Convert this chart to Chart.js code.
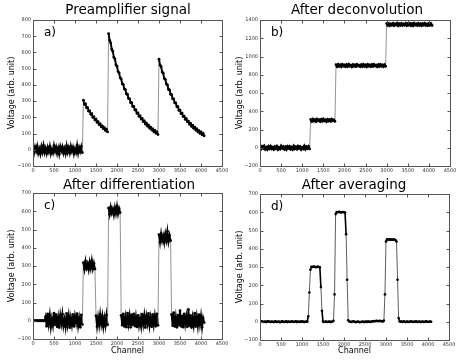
<!DOCTYPE html>
<html>
<head>
<meta charset="utf-8">
<script src="https://cdn.jsdelivr.net/npm/chart.js@4.4.1/dist/chart.umd.min.js"></script>
<style>
  html, body { margin: 0; padding: 0; background: #fff; }
  #wrap { position: relative; width: 474px; height: 362px; overflow: hidden; background: #fff; }
  canvas { position: absolute; }
</style>
</head>
<body>
<div id="wrap">
  <canvas id="chartC" width="237" height="192" style="left:0;top:170px"></canvas>
  <canvas id="chartD" width="242" height="192" style="left:232px;top:170px"></canvas>
  <canvas id="chartA" width="237" height="181" style="left:0;top:0"></canvas>
  <canvas id="chartB" width="242" height="181" style="left:232px;top:0"></canvas>
</div>
<script>
// channel grid, one sample every 25 channels
const channels = [
  0, 25, 50, 75, 100, 125, 150, 175, 200, 225, 250, 275, 300, 325, 350, 375,
  400, 425, 450, 475, 500, 525, 550, 575, 600, 625, 650, 675, 700, 725, 750, 775,
  800, 825, 850, 875, 900, 925, 950, 975, 1000, 1025, 1050, 1075, 1100, 1125, 1150, 1175,
  1200, 1225, 1250, 1275, 1300, 1325, 1350, 1375, 1400, 1425, 1450, 1475,
  1500, 1525, 1550, 1575, 1600, 1625, 1650, 1675, 1700, 1725, 1750, 1775,
  1800, 1825, 1850, 1875, 1900, 1925, 1950, 1975, 2000, 2025, 2050, 2075,
  2100, 2125, 2150, 2175, 2200, 2225, 2250, 2275, 2300, 2325, 2350, 2375,
  2400, 2425, 2450, 2475, 2500, 2525, 2550, 2575, 2600, 2625, 2650, 2675,
  2700, 2725, 2750, 2775, 2800, 2825, 2850, 2875, 2900, 2925, 2950, 2975,
  3000, 3025, 3050, 3075, 3100, 3125, 3150, 3175, 3200, 3225, 3250, 3275,
  3300, 3325, 3350, 3375, 3400, 3425, 3450, 3475, 3500, 3525, 3550, 3575,
  3600, 3625, 3650, 3675, 3700, 3725, 3750, 3775, 3800, 3825, 3850, 3875,
  3900, 3925, 3950, 3975, 4000, 4025, 4050, 4075
];

// a) preamplifier signal
const preampSignal = [
  12, -20, 18, -8, 24, -22, 6, -26, 20, -14, 27, -18, 9, -24, 15, -12, 22, -25, 4, -19, 26, -10, 17, -23,
  11, -27, 21, -6, 19, -21, 8, -24, 25, -15, 13, -20, 23, -9, 16, -26, 7, -17, 28, -22, 14, -11, 20, -18,
  306, 280, 283, 259, 259, 238, 240, 219, 222, 200, 203, 184, 189, 169, 173, 155, 160, 142, 147, 131, 137, 119, 126, 110,
  716, 675, 659, 620, 607, 571, 559, 524, 515, 482, 474, 443, 437, 407, 402, 374, 371, 344, 341, 316, 314, 290, 290, 267,
  267, 245, 246, 225, 227, 206, 209, 189, 193, 174, 178, 159, 164, 146, 152, 134, 140, 123, 129, 112, 119, 103, 110, 94,
  558, 522, 512, 480, 472, 440, 434, 405, 400, 372, 369, 342, 340, 314, 313, 289, 289, 265, 266, 243, 245, 223,
  226, 205, 208, 188, 192, 173, 177, 158, 163, 145, 151, 133, 139, 122, 128, 111, 118, 102, 110, 93, 101, 86
];

// b) after deconvolution
const deconvolved = [
  8, -14, 16, -6, 19, -17, 4, -20, 15, -10, 18, -13, 6, -18, 12, -9, 17, -19, 3, -15, 20, -7, 13, -16,
  9, -20, 15, -5, 14, -16, 6, -18, 19, -11, 10, -15, 17, -7, 12, -19, 5, -12, 20, -16, 11, -8, 15, -13,
  310, 289, 313, 292, 308, 287, 314, 295, 307, 288, 311, 291, 315, 294, 306, 286, 312, 293, 309, 290, 313, 296, 305, 288,
  910, 889, 913, 892, 908, 887, 914, 895, 907, 888, 911, 891, 915, 894, 906, 886, 912, 893, 909, 890, 913, 896, 905, 888,
  911, 890, 914, 893, 907, 886, 913, 894, 908, 889, 912, 892, 914, 895, 906, 887, 910, 891, 913, 894, 907, 888, 911, 892,
  1363, 1341, 1361, 1338, 1358, 1343, 1364, 1339, 1357, 1345, 1365, 1337, 1359, 1342, 1362, 1340, 1356, 1344, 1364, 1338, 1360, 1343,
  1362, 1340, 1359, 1337, 1365, 1344, 1357, 1339, 1363, 1342, 1358, 1338, 1361, 1345, 1364, 1341, 1356, 1339, 1362, 1343, 1360, 1340
];

// c) after differentiation
const differentiated = [
  0, 0, 0, 0, 0, 0, 0, 0, 0, 0, 0, 0,
  22, -30, 38, -18, 31, -35, 12, -26, 41, -22, 34, -33, 18, -37, 29, -15, 36, -28,
  9, -34, 40, -20, 27, -38, 16, -24, 35, -31, 25, -12, 39, -29, 14, -36, 32, -21,
  318, 282, 327, 290, 312, 279, 322, 288, 330, 285, 315, 283,
  28, -31, 20, -25, 34, -18, 26, -33, 15, -27, 31, -22,
  618, 583, 624, 590, 612, 579, 621, 587, 628, 585, 615, 592,
  30, -24, 37, -31, 19, -35, 42, -17, 27, -36, 33, -23, 38, -29, 21, -34, 30, -26,
  13, -31, 36, -19, 29, -37, 24, -14, 40, -27, 17, -33, 35, -22, 26, -30, 38, -25,
  472, 430, 478, 438, 465, 427, 476, 441, 490, 433, 468, 439,
  35, -27, 44, -31, 20, -36, 31, -24, 55, -30, 27, -35, 38, -19, 24, -33,
  62, -28, 30, -37, 18, -25, 41, -32, 22, -29, 34, -20, 27, -36, 15, -10
];

// d) after averaging
const averaged = [
  0, 1, 2, -1, 0, 1, -2, 2, 3, 0, -1, 1, 0, -2, 1, 2, -1, 0, 1, -3, 0, 2, 1, -1,
  0, 2, -2, 1, 0, -1, 2, 1, -1, 0, 3, -2, 1, 0, -1, 2, 0, 1, -2, 0, 1, 0,
  30, 160, 285, 301, 300, 302, 301, 299, 300, 302, 300, 298, 190, 60, 2,
  -1, 0, 1, -1, 0, 1, -2, 0, 1, 5,
  150, 590, 601, 600, 602, 601, 599, 600, 601, 600, 598, 480, 230, 8,
  2, 0, -1, 1, 2, 0, -2, -1, 1, 0, -3, -1, 0, 1, -2, 0, 1, -1, 2, 0, -1, 1, 3, 2, 4, 3, 5, 4, 3, 5, 4, 3, 2, 6,
  150, 440, 452, 451, 450, 452, 450, 449, 451, 450, 448, 440, 230, 20, 2,
  0, 1, -1, 2, 0, -2, 1, 0, -1, 1, 2, 0, -1, 1, 0, 2, -1, 0, 1, -2, 0, 1, -1, 0, 2, 1, -1, 0, 1, 0
];

const channelTicks = [0, 500, 1000, 1500, 2000, 2500, 3000, 3500, 4000, 4500];
const preampTicks = [-100, 0, 100, 200, 300, 400, 500, 600, 700, 800];
const deconvTicks = [-200, 0, 200, 400, 600, 800, 1000, 1200, 1400];
const shaperTicks = [-100, 0, 100, 200, 300, 400, 500, 600, 700];

const titles = ['Preamplifier signal', 'After deconvolution', 'After differentiation', 'After averaging'];
const panelLabels = ['a)', 'b)', 'c)', 'd)'];

const FONT = '"DejaVu Sans", sans-serif';

const panelDecor = {
  id: 'panelDecor',
  afterDraw(chart, args, opts) {
    const { ctx, chartArea: a, scales } = chart;
    ctx.save();
    ctx.strokeStyle = '#555';
    ctx.lineWidth = 1;
    const l = Math.round(a.left) + 0.5, r = Math.round(a.right) + 0.5;
    const t = Math.round(a.top) + 0.5, b = Math.round(a.bottom) + 0.5;
    ctx.strokeRect(l, t, r - l, b - t);
    ctx.beginPath();
    scales.x.ticks.forEach(tk => {
      const px = Math.round(scales.x.getPixelForValue(tk.value)) + 0.5;
      ctx.moveTo(px, b); ctx.lineTo(px, b - 3);
      ctx.moveTo(px, t); ctx.lineTo(px, t + 3);
    });
    scales.y.ticks.forEach(tk => {
      const py = Math.round(scales.y.getPixelForValue(tk.value)) + 0.5;
      ctx.moveTo(l, py); ctx.lineTo(l + 3, py);
      ctx.moveTo(r, py); ctx.lineTo(r - 3, py);
    });
    ctx.stroke();
    ctx.fillStyle = '#000';
    ctx.font = '13.5px ' + FONT;
    ctx.textAlign = 'center';
    ctx.textBaseline = 'alphabetic';
    ctx.fillText(opts.title, opts.titleX, opts.titleY);
    ctx.font = '12px ' + FONT;
    ctx.textAlign = 'left';
    ctx.fillText(opts.label, a.left + 11, a.top + 16);
    ctx.restore();
  }
};

function minusFmt(v) {
  return v < 0 ? '\u2212' + Math.abs(v) : String(v);
}

// large steps between neighbouring samples are drawn as a thin grey line
function isJump(ctx) {
  return Math.abs(ctx.p1.y - ctx.p0.y) > 22;
}

function makePanel(id, values, yTicks, idx, geo, style) {
  const yMin = yTicks[0], yMax = yTicks[yTicks.length - 1];
  return new Chart(document.getElementById(id), {
    type: 'line',
    data: {
      datasets: [{
        data: channels.map((c, i) => ({ x: c, y: values[i] })),
        borderColor: '#000',
        borderWidth: style.lineWidth,
        pointRadius: style.pointRadius,
        pointBackgroundColor: '#000',
        pointBorderWidth: 0,
        tension: 0,
        segment: {
          borderColor: ctx => isJump(ctx) ? style.jumpColor : undefined,
          borderWidth: ctx => isJump(ctx) ? 0.8 : undefined
        }
      }]
    },
    options: {
      responsive: false,
      animation: false,
      events: [],
      layout: { padding: geo.padding },
      plugins: {
        legend: { display: false },
        tooltip: { enabled: false },
        title: { display: false },
        panelDecor: { title: titles[idx], label: panelLabels[idx], titleX: geo.titleX, titleY: geo.titleY }
      },
      scales: {
        x: {
          type: 'linear',
          min: 0,
          max: 4500,
          afterBuildTicks: s => { s.ticks = channelTicks.map(v => ({ value: v })); },
          afterFit: s => { s.height = geo.xHeight; },
          grid: { display: false, drawTicks: false },
          border: { display: false },
          ticks: { autoSkip: false, maxRotation: 0, padding: 1.5, color: '#333', font: { family: FONT, size: 5 }, callback: minusFmt },
          title: { display: geo.showChannel, text: 'Channel', color: '#000', padding: 0, font: { family: FONT, size: 8 } }
        },
        y: {
          type: 'linear',
          min: yMin,
          max: yMax,
          afterBuildTicks: s => { s.ticks = yTicks.map(v => ({ value: v })); },
          afterFit: s => { s.width = geo.yWidth; },
          grid: { display: false, drawTicks: false },
          border: { display: false },
          ticks: { autoSkip: false, padding: 2, color: '#333', font: { family: FONT, size: 5 }, callback: minusFmt },
          title: { display: true, text: 'Voltage (arb. unit)', color: '#000', padding: 0, font: { family: FONT, size: 8 } }
        }
      }
    },
    plugins: [panelDecor]
  });
}

const noisy = { lineWidth: 1.9, pointRadius: 1.4, jumpColor: '#777' };

makePanel('chartA', preampSignal, preampTicks, 0,
  { padding: { left: 7, right: 15, top: 20, bottom: 0 }, yWidth: 26, xHeight: 15, showChannel: false, titleX: 128, titleY: 14 },
  noisy);
makePanel('chartB', deconvolved, deconvTicks, 1,
  { padding: { left: 3, right: 24, top: 20, bottom: 0 }, yWidth: 25, xHeight: 15, showChannel: false, titleX: 125, titleY: 14 },
  noisy);
makePanel('chartC', differentiated, shaperTicks, 2,
  { padding: { left: 7, right: 15, top: 23, bottom: 6 }, yWidth: 26, xHeight: 17, showChannel: true, titleX: 129, titleY: 19 },
  noisy);
makePanel('chartD', averaged, shaperTicks, 3,
  { padding: { left: 3, right: 25, top: 24, bottom: 6 }, yWidth: 25, xHeight: 16, showChannel: true, titleX: 122, titleY: 19 },
  { lineWidth: 1.6, pointRadius: 1.3, jumpColor: '#333' });
</script>
</body>
</html>
